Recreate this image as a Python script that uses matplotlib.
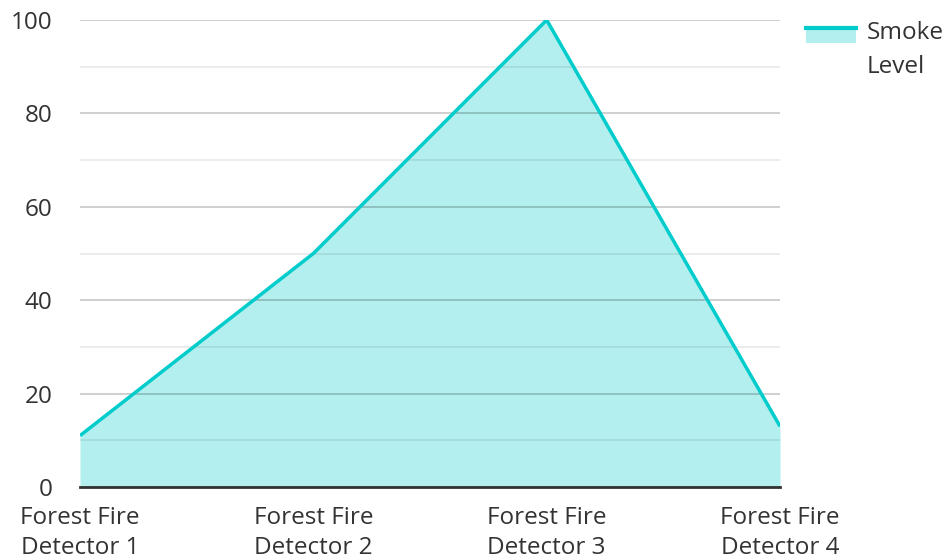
import matplotlib.pyplot as plt
from matplotlib.patches import Rectangle
from matplotlib.lines import Line2D
from matplotlib.legend_handler import HandlerBase

plt.rcParams['font.family'] = ['Open Sans', 'DejaVu Sans']

detectors = ["Forest Fire\nDetector 1", "Forest Fire\nDetector 2",
             "Forest Fire\nDetector 3", "Forest Fire\nDetector 4"]
smoke = [11, 50, 100, 13]

line_color = "#00CCCC"
fill_color = "#B2EFEE"


class AreaHandler(HandlerBase):
    # filled box with the line sitting on its top edge, raised to the first text line
    def __init__(self, lift=0, **kw):
        super().__init__(**kw)
        self.lift = lift

    def create_artists(self, legend, orig_handle, xdescent, ydescent,
                       width, height, fontsize, trans):
        y0 = -ydescent + self.lift
        box = Rectangle((-xdescent, y0), width, height,
                        facecolor=fill_color, edgecolor="none", transform=trans)
        top = Line2D([-xdescent, -xdescent + width], [y0 + height, y0 + height],
                     color=line_color, linewidth=3, transform=trans)
        return [box, top]


fig = plt.figure(figsize=(9.46, 5.58), dpi=100)
ax = fig.add_axes([80 / 946, 1 - 487 / 558, 700 / 946, 467 / 558])

x = list(range(len(detectors)))
ax.fill_between(x, smoke, 0, color=fill_color, zorder=1, linewidth=0)
ax.plot(x, smoke, color=line_color, linewidth=2.5, zorder=3,
        solid_capstyle="butt")

ax.set_xlim(0, 3)
ax.set_ylim(0, 100)
ax.set_yticks(range(0, 101, 20))
ax.set_yticks(range(10, 100, 20), minor=True)
ax.set_xticks(x)
ax.set_xticklabels(detectors, linespacing=1.32)

ax.set_axisbelow(False)
ax.grid(axis="y", which="major", color="#000000", alpha=0.22, linewidth=1.2)
ax.grid(axis="y", which="minor", color="#000000", alpha=0.09, linewidth=1.2)
ax.grid(axis="x", visible=False)

for s in ["top", "right", "left"]:
    ax.spines[s].set_visible(False)
ax.spines["bottom"].set_color("#333333")
ax.spines["bottom"].set_linewidth(2)
ax.spines["bottom"].set_zorder(4)

ax.tick_params(axis="both", which="both", length=0, labelsize=17.5,
               labelcolor="#333333")
ax.tick_params(axis="y", pad=20)
ax.tick_params(axis="x", pad=13.5)

handle = Rectangle((0, 0), 1, 1)
leg = fig.legend([handle], ["Smoke\nLevel"],
                 handler_map={Rectangle: AreaHandler(lift=11)},
                 loc="upper left", bbox_to_anchor=(806 / 946, 1 - 21 / 558),
                 frameon=False, fontsize=17.5, handlelength=2.06, handleheight=0.58,
                 handletextpad=0.42, borderpad=0, borderaxespad=0,
                 labelcolor="#333333")
for t in leg.get_texts():
    t.set_linespacing(1.55)

fig.savefig("out.png", dpi=100)
